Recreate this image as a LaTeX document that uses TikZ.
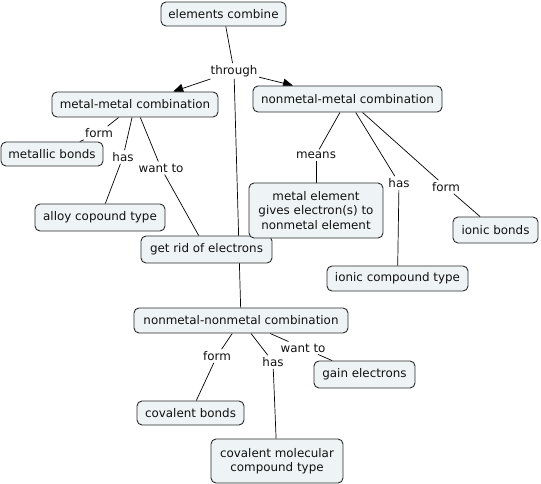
\documentclass[tikz,border=0pt]{standalone}
\usepackage{fontspec}
\setmainfont{DejaVu Sans}
\usetikzlibrary{arrows.meta}
\pgfdeclarelayer{background}
\pgfsetlayers{background,main}
\definecolor{boxfill}{HTML}{EEF3F5}
\definecolor{boxline}{HTML}{2A2A2A}
\definecolor{txt}{HTML}{111111}
\tikzset{
  concept/.style={draw=boxline, fill=boxfill, rounded corners=5pt, line width=0.9pt,
    font=\fontsize{11.9}{14.5}\selectfont, text=txt, inner xsep=2pt, inner ysep=2pt, align=center},
  lbl/.style={font=\fontsize{11.9}{14.5}\selectfont, text=txt, inner xsep=1.5pt, inner ysep=2pt},
  link/.style={draw=black, line width=0.7pt},
  arr/.style={link, -{Triangle[length=10pt,width=9pt]}}
}
\begin{document}
\begin{tikzpicture}[x=1pt,y=-1pt]
\useasboundingbox (0,0) rectangle (541,484);
% concepts
\node[concept, minimum width=125pt, minimum height=24pt] (ec) at (223.5,14) {elements combine};
\node[concept, minimum width=166pt, minimum height=25pt] (mm) at (135,104.5) {metal-metal combination};
\node[concept, minimum width=189pt, minimum height=26pt] (nm) at (347.5,99) {nonmetal-metal combination};
\node[concept, minimum width=102pt, minimum height=24pt] (mb) at (52,154) {metallic bonds};
\node[concept, minimum width=130pt, minimum height=27pt] (al) at (100,217.5) {alloy copound type};
\node[concept, minimum width=131pt, minimum height=27pt] (gr) at (206.5,249.5) {get rid of electrons};
\node[concept, minimum width=134pt, minimum height=55pt] (me) at (316,210.5) {metal element\\gives electron(s) to\\nonmetal element};
\node[concept, minimum width=85pt, minimum height=26pt] (ib) at (495.5,230) {ionic bonds};
\node[concept, minimum width=141pt, minimum height=25pt] (ic) at (397.5,278.5) {ionic compound type};
\node[concept, minimum width=214pt, minimum height=25pt] (nn) at (241,320.5) {nonmetal-nonmetal combination};
\node[concept, minimum width=101pt, minimum height=27pt] (ge) at (364.5,374.5) {gain electrons};
\node[concept, minimum width=107pt, minimum height=24pt] (cb) at (190.5,413) {covalent bonds};
\node[concept, minimum width=132pt, minimum height=44pt] (cm) at (277,461) {covalent molecular\\compound type};
% link labels
\node[lbl] (th) at (234,71) {through};
\node[lbl] (f1) at (99,133) {form};
\node[lbl] (h1) at (123,157) {has};
\node[lbl] (w1) at (161,168) {want to};
\node[lbl] (mn) at (316,155) {means};
\node[lbl] (h2) at (399,183) {has};
\node[lbl] (f2) at (446,187) {form};
\node[lbl] (f3) at (217,356) {form};
\node[lbl] (h3) at (273,362) {has};
\node[lbl] (w3) at (303,348) {want to};
% connectors
\begin{pgfonlayer}{background}
\draw[link] (ec) -- (th);
\draw[arr] (th) -- (mm);
\draw[arr] (th) -- (nm);
\draw[link] (th) -- (nn);
\draw[link] (mm) -- (f1);
\draw[link] (f1) -- (mb);
\draw[link] (mm) -- (h1);
\draw[link] (h1) -- (al);
\draw[link] (mm) -- (w1);
\draw[link] (w1) -- (gr);
\draw[link] (nm) -- (mn);
\draw[link] (mn) -- (me);
\draw[link] (nm) -- (h2);
\draw[link] (h2) -- (ic);
\draw[link] (nm) -- (f2);
\draw[link] (f2) -- (ib);
\draw[link] (nn) -- (f3);
\draw[link] (f3) -- (cb);
\draw[link] (nn) -- (h3);
\draw[link] (h3) -- (cm);
\draw[link] (nn) -- (w3);
\draw[link] (w3) -- (ge);
\end{pgfonlayer}
\end{tikzpicture}
\end{document}
